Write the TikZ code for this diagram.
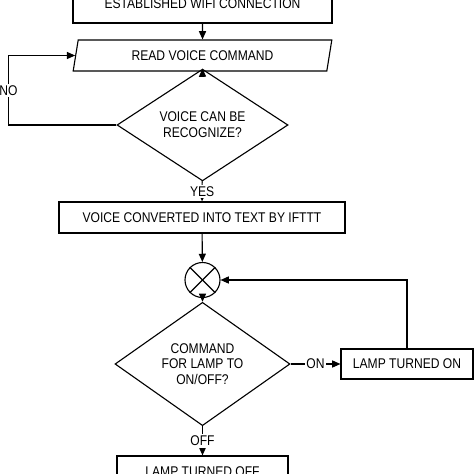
\documentclass[tikz,border=0pt]{standalone}
\usepackage{fontspec}
\setmainfont[FakeStretch=0.86]{Liberation Sans}
\usetikzlibrary{arrows.meta, positioning, shapes.geometric}

\newcommand{\unitpx}{0.03cm}

\begin{document}
\begin{tikzpicture}[
            x=\unitpx, y=-\unitpx,
            line width=0.95pt,
            font=\fontsize{12}{13.5}\selectfont,
            >={Triangle[length=7pt,width=6pt]},
            block/.style={rectangle, draw, inner sep=0pt, minimum height=31*\unitpx},
            inout/.style={trapezium, draw, trapezium left angle=74, trapezium right angle=106,
                trapezium stretches=true, inner sep=0pt, minimum height=31*\unitpx, minimum width=259*\unitpx},
            decision/.style={diamond, draw, align=center, inner sep=0pt},
            mixer/.style={circle, draw, inner sep=0pt, minimum size=35*\unitpx},
            tag/.style={fill=white, inner sep=1.5pt}
        ]

        \path[use as bounding box, clip] (0,0) rectangle (474,474);

        \node[block, minimum width=259*\unitpx, minimum height=38*\unitpx] (wifi) at (202.5,4) {ESTABLISHED WIFI CONNECTION};
        \node[inout] (read) at (202.5,55.5) {READ VOICE COMMAND};
        \node[decision, minimum width=171*\unitpx, minimum height=72*\unitpx] (recog) at (202.5,125) {VOICE CAN BE\\RECOGNIZE?};
        \node[block, minimum width=286*\unitpx] (convert) at (202,217.5) {VOICE CONVERTED INTO TEXT BY IFTTT};
        \node[mixer] (sum) at (202.5,280) {};
        \node[decision, minimum width=175*\unitpx, minimum height=92*\unitpx] (lampcmd) at (202.5,364) {COMMAND\\FOR LAMP TO\\ON/OFF?};
        \node[block, minimum width=132*\unitpx, minimum height=30*\unitpx] (lampon) at (407,364) {LAMP TURNED ON};
        \node[block, minimum width=171*\unitpx] (lampoff) at (202.5,471.5) {LAMP TURNED OFF};

        % cross inside the junction
        \draw (sum.north east) -- (sum.south west);
        \draw (sum.north west) -- (sum.south east);

        \draw[->] (wifi) -- (read);
        \draw[->] (read) -- (recog);
        \draw[->] (recog.west) -- ++(-108,0) |- (read.west) node[pos=0.25, tag] {NO};
        \draw[->] (recog) -- (convert) node[midway, tag] {YES};
        \draw[->] (convert) -- (sum);
        \draw[->] (sum) -- (lampcmd);
        \draw[->] (lampcmd) -- (lampon) node[midway, tag] {ON};
        \draw[->] (lampcmd) -- (lampoff) node[midway, tag] {OFF};

        % back to the junction
        \draw[->] (lampon.north) |- (sum.east);

    \end{tikzpicture}
\end{document}
